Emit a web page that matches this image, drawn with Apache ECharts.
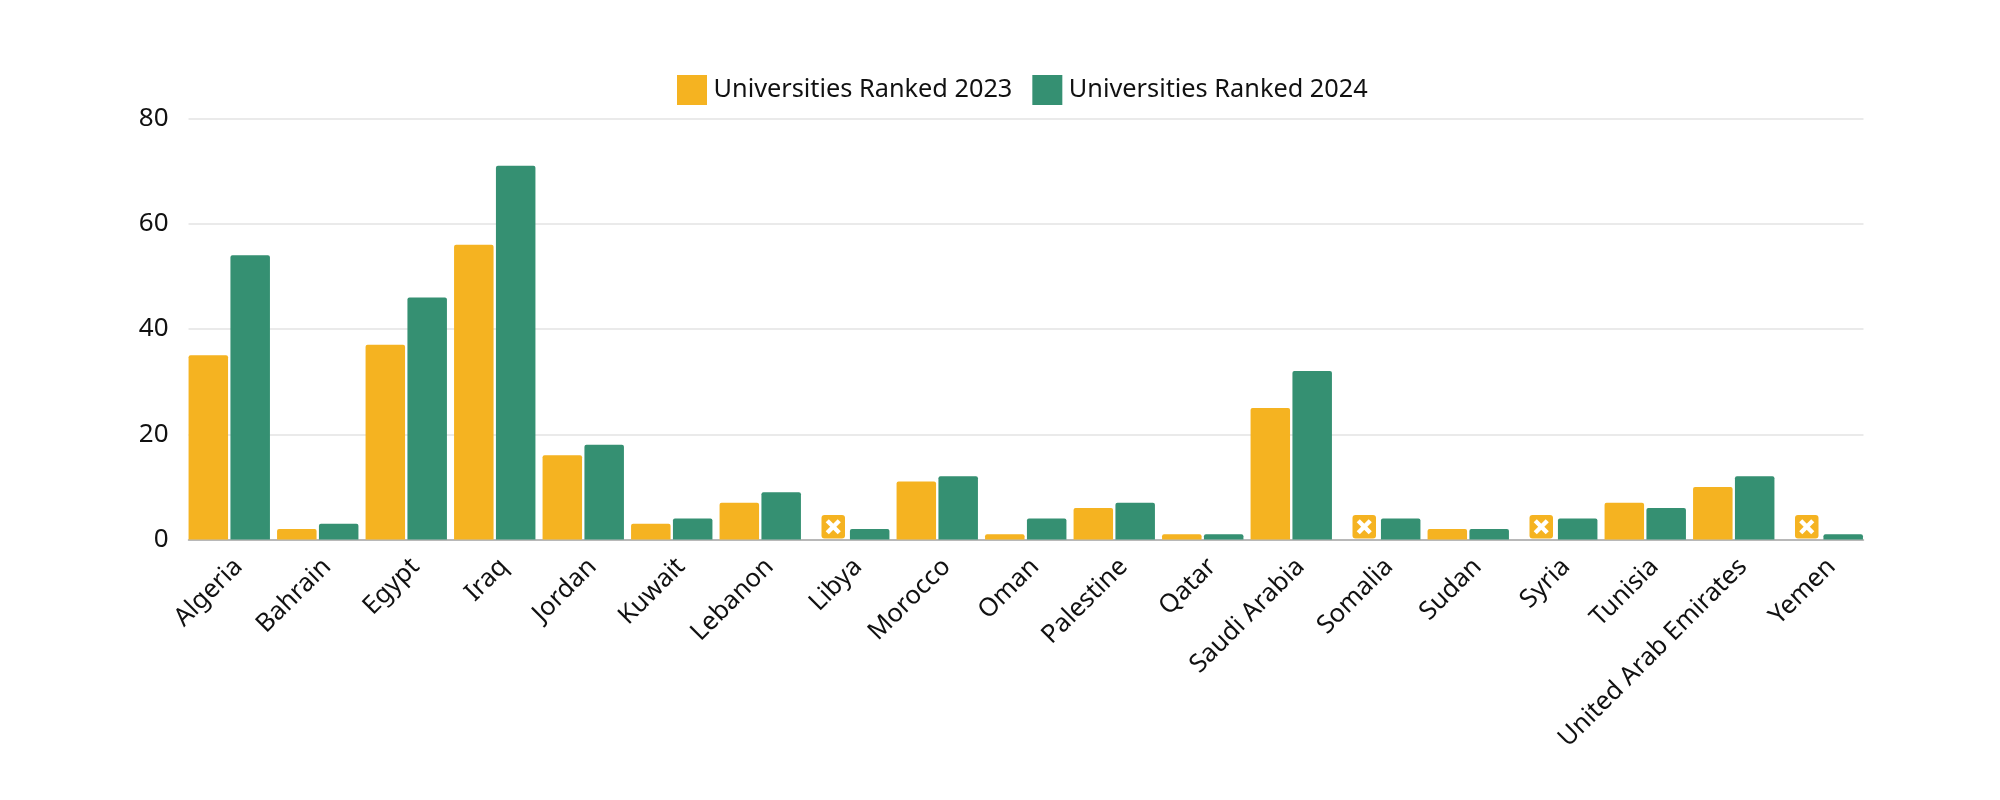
<!DOCTYPE html>
<html><head><meta charset="utf-8">
<style>html,body{margin:0;padding:0;background:#fff}#c{width:2000px;height:800px}</style>
<script src="https://cdn.jsdelivr.net/npm/echarts@6/dist/echarts.min.js"></script>
</head><body><div id="c"></div>
<script>
const categories = ["Algeria","Bahrain","Egypt","Iraq","Jordan","Kuwait","Lebanon","Libya","Morocco","Oman","Palestine","Qatar","Saudi Arabia","Somalia","Sudan","Syria","Tunisia","United Arab Emirates","Yemen"];
const ranked2023 = [35,2,37,56,16,3,7,null,11,1,6,1,25,null,2,null,7,10,null];
const ranked2024 = [54,3,46,71,18,4,9,2,12,4,7,1,32,4,2,4,6,12,1];
const yTicks = [0,20,40,60,80];
const ORANGE = "#F5B321", GREEN = "#359072", LEGEND_FONT = "Noto Sans", AXIS_FONT = "Noto Sans";
const missing = categories.filter((c,i)=>ranked2023[i]===null);

function renderMissing(params, api){
  const p = api.coord([api.value(0), 0]);
  const s = 23.5, cx = p[0]-15.5, cy = p[1]-1-s/2, a = 6;
  const line = (x1,y1,x2,y2)=>({type:'line',shape:{x1,y1,x2,y2},style:{stroke:'#fff',lineWidth:4.4}});
  return {type:'group',children:[
    {type:'rect',shape:{x:cx-s/2,y:cy-s/2,width:s,height:s,r:3},style:{fill:ORANGE}},
    line(cx-a,cy-a,cx+a,cy+a), line(cx-a,cy+a,cx+a,cy-a)
  ]};
}

const chart = echarts.init(document.getElementById('c'),null,{renderer:'canvas'});
chart.setOption({
  animation:false,
  legend:{
    data:["Universities Ranked 2023","Universities Ranked 2024"],
    top:70,left:672,itemWidth:30,itemHeight:30,itemGap:20,
    icon:'rect',
    textStyle:{fontFamily:LEGEND_FONT,fontSize:25.3,color:'#111',padding:[4,0,0,1.5]}
  },
  grid:[
    {left:188.5,right:136.5,top:118.5,bottom:260.5},
    {left:185,right:133.5,top:118.5,bottom:260.5}
  ],
  xAxis:[
    {type:'category',gridIndex:0,data:categories,axisTick:{show:false},axisLabel:{show:false},
     axisLine:{lineStyle:{color:'#a8a8a8',width:1.5}},z:1},
    {type:'category',gridIndex:1,data:categories,axisTick:{show:false},axisLine:{show:false},
     axisLabel:{rotate:45,interval:0,fontFamily:AXIS_FONT,fontSize:25.5,color:'#111',margin:14,verticalAlign:'top'}}
  ],
  yAxis:[
    {type:'value',gridIndex:0,min:yTicks[0],max:yTicks[4],interval:yTicks[1],
     axisLine:{show:false},axisTick:{show:false},
     splitLine:{lineStyle:{color:'#e3e3e3',width:1.5}},
     axisLabel:{fontFamily:AXIS_FONT,fontSize:26,color:'#111',margin:20}},
    {type:'value',gridIndex:1,min:yTicks[0],max:yTicks[4],interval:yTicks[1],show:false,splitLine:{show:false}}
  ],
  series:[
    {name:"Universities Ranked 2023",type:'bar',xAxisIndex:1,yAxisIndex:1,data:ranked2023,barWidth:39.5,barGap:'6%',
     itemStyle:{color:ORANGE,borderRadius:[2,2,0,0]}},
    {name:"Universities Ranked 2024",type:'bar',xAxisIndex:1,yAxisIndex:1,data:ranked2024,barWidth:39.5,barGap:'6%',
     itemStyle:{color:GREEN,borderRadius:[2,2,0,0]}},
    {name:"Not ranked 2023",type:'custom',xAxisIndex:1,yAxisIndex:1,data:missing.map(c=>[c]),
     encode:{x:0},renderItem:renderMissing,z:3}
  ]
});
</script></body></html>
